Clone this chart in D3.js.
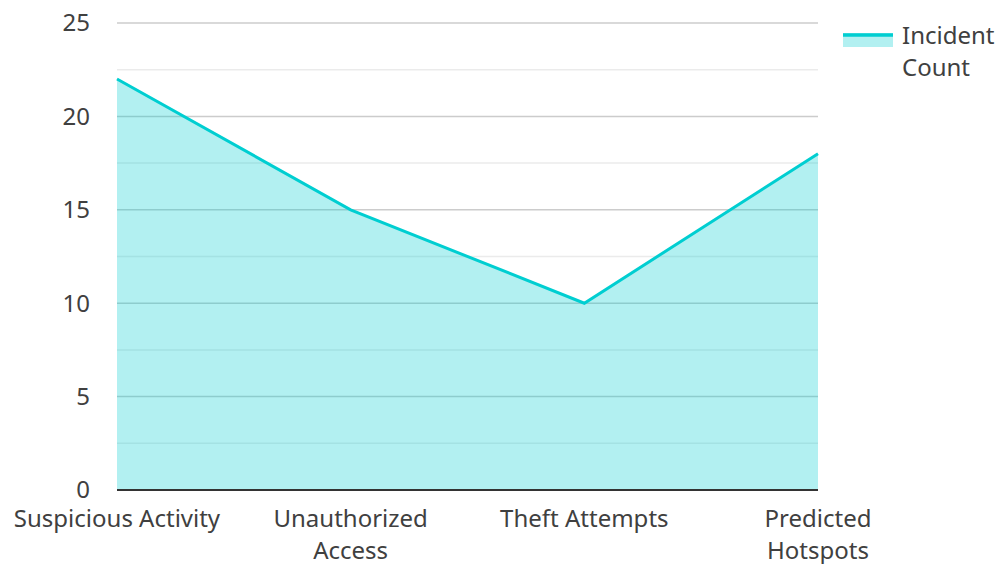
<!DOCTYPE html>
<html lang="en">
<head>
<meta charset="UTF-8">
<title>Incident Count</title>
<script src="https://cdn.jsdelivr.net/npm/d3@7"></script>
<style>
  body { margin: 0; background: #fff; font-family: 'Noto Sans', 'Open Sans', sans-serif; }
  svg text { fill: #404040; }
</style>
</head>
<body>
<svg id="chart" width="1002" height="564"></svg>
<script>
const categories = ["Suspicious Activity", "Unauthorized Access", "Theft Attempts", "Predicted Hotspots"];
const incidentCount = [22, 15, 10, 18];
const yTicks = [0, 5, 10, 15, 20, 25];
const seriesName = "Incident Count";

const svg = d3.select("#chart");
const plotLeft = 117, plotRight = 818, plotTop = 23, plotBottom = 490;
const color = "#00CED1";
const fontSize = 24;

const x = d3.scalePoint().domain(categories).range([plotLeft, plotRight]);
const y = d3.scaleLinear().domain([0, 25]).range([plotBottom, plotTop]);

// grid lines: minor every 2.5, major every 5
const minor = d3.range(2.5, 25, 5);
svg.append("g").selectAll("line").data(minor).join("line")
  .attr("x1", plotLeft).attr("x2", plotRight)
  .attr("y1", d => y(d)).attr("y2", d => y(d))
  .attr("stroke", "#ebebeb").attr("stroke-width", 1.5);
svg.append("g").selectAll("line").data(yTicks.filter(d => d > 0)).join("line")
  .attr("x1", plotLeft).attr("x2", plotRight)
  .attr("y1", d => y(d)).attr("y2", d => y(d))
  .attr("stroke", "#cccccc").attr("stroke-width", 1.5);

const pts = categories.map((c, i) => ({ c, v: incidentCount[i] }));

svg.append("path").datum(pts)
  .attr("d", d3.area().x(d => x(d.c)).y0(y(0)).y1(d => y(d.v)))
  .attr("fill", color).attr("fill-opacity", 0.3);

svg.append("path").datum(pts)
  .attr("d", d3.line().x(d => x(d.c)).y(d => y(d.v)))
  .attr("fill", "none").attr("stroke", color).attr("stroke-width", 3);

// x axis line
svg.append("line").attr("x1", plotLeft).attr("x2", plotRight)
  .attr("y1", y(0)).attr("y2", y(0))
  .attr("stroke", "#333").attr("stroke-width", 2);

// y labels
svg.append("g").selectAll("text").data(yTicks).join("text")
  .attr("x", 90).attr("y", d => y(d))
  .attr("dy", "0.35em").attr("text-anchor", "end")
  .attr("font-size", fontSize).text(d => d);

// x labels (wrapped)
const wrapped = {
  "Suspicious Activity": ["Suspicious Activity"],
  "Unauthorized Access": ["Unauthorized", "Access"],
  "Theft Attempts": ["Theft Attempts"],
  "Predicted Hotspots": ["Predicted", "Hotspots"]
};
const xl = svg.append("g").selectAll("text").data(categories).join("text")
  .attr("x", d => x(d)).attr("y", 527)
  .attr("text-anchor", "middle").attr("font-size", fontSize);
xl.each(function(d) {
  const t = d3.select(this);
  wrapped[d].forEach((line, i) => {
    t.append("tspan").attr("x", x(d)).attr("dy", i === 0 ? 0 : 32).text(line);
  });
});

// legend
const lg = svg.append("g");
lg.append("rect").attr("x", 843).attr("y", 33).attr("width", 50).attr("height", 14)
  .attr("fill", color).attr("fill-opacity", 0.3);
lg.append("line").attr("x1", 843).attr("x2", 893).attr("y1", 35).attr("y2", 35)
  .attr("stroke", color).attr("stroke-width", 3.5);
lg.append("text").attr("x", 902).attr("y", 44).attr("font-size", fontSize)
  .selectAll("tspan").data(["Incident", "Count"]).join("tspan")
  .attr("x", 902).attr("dy", (d, i) => i === 0 ? 0 : 32).text(d => d);
</script>
</body>
</html>
